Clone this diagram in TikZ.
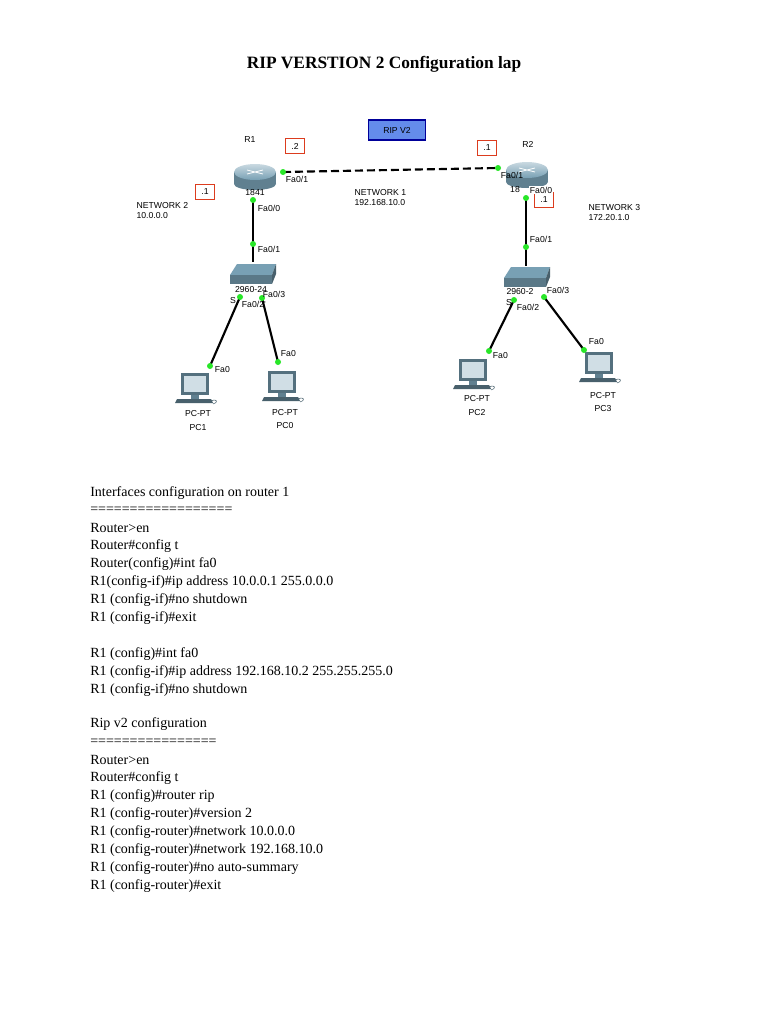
\documentclass[tikz,border=0pt]{standalone}
\usepackage{fontspec}
\setmainfont{Liberation Serif}
\newfontfamily\labfont{Liberation Sans}
\usetikzlibrary{positioning}

\definecolor{devblue}{RGB}{120,160,180}
\definecolor{ripblue}{RGB}{100,140,235}
\definecolor{ipred}{RGB}{220,60,30}
\definecolor{linkgreen}{RGB}{40,230,40}

\tikzset{
  lab/.style={font=\labfont\fontsize{6.5}{7}\selectfont, inner sep=0.5pt},
  ipbox/.style={draw=ipred, line width=1.2pt, fill=white, font=\labfont\fontsize{6.5}{7}\selectfont, minimum width=14pt, minimum height=11pt, inner sep=1pt},
  netlab/.style={font=\labfont\fontsize{6.5}{7.5}\selectfont, align=left, fill=white, inner sep=1pt},
  link/.style={line width=1.6pt, black},
  port/.style={circle, fill=linkgreen, inner sep=0pt, minimum size=4.5pt},
  cfg/.style={anchor=west, font=\fontsize{10.5}{12}\selectfont, inner sep=0pt}
}

% device shapes
\newcommand{\drawRouter}[1]{%
  \begin{scope}[shift={#1}]
    \fill[devblue!80!black] (-21,0) rectangle (21,12);
    \fill[devblue!80!black] (0,12) ellipse (21 and 6);
    \shade[top color=devblue!40!white, bottom color=devblue] (0,0) ellipse (21 and 8);
    \draw[white, line width=0.6pt] (-8,-2) -- (8,2) (-8,2) -- (8,-2);
  \end{scope}}
\newcommand{\drawSwitch}[1]{%
  \begin{scope}[shift={#1}]
    \fill[devblue] (-23,2) -- (-16,-9) -- (23,-9) -- (19,2) -- cycle;
    \fill[devblue!75!black] (-23,2) rectangle (19,11);
    \fill[devblue!60!black] (19,2) -- (23,-9) -- (23,1) -- (19,11) -- cycle;
  \end{scope}}
\newcommand{\drawPC}[1]{%
  \begin{scope}[shift={#1}]
    \fill[devblue!70!black] (-15,-16) rectangle (13,6);
    \fill[devblue!35!white] (-12,-13) rectangle (10,3);
    \fill[devblue!80!black] (-5,6) rectangle (3,10);
    \fill[devblue!60!black] (-19,10) -- (15,10) -- (17,14) -- (-21,14) -- cycle;
    \draw[devblue!60!black] (15,12) .. controls (22,9) and (22,14) .. (17,15);
  \end{scope}}

\begin{document}
\begin{tikzpicture}[x=0.75pt, y=-0.75pt]
  \useasboundingbox[fill=white] (0,0) rectangle (768,1024);

  % Title
  \node[font=\bfseries\fontsize{13}{15}\selectfont] (title) at (384,64) {RIP VERSTION 2 Configuration lap};

  % Devices
  \drawRouter{(255,172)}
  \drawRouter{(527,170)}
  \drawSwitch{(253,273)}
  \drawSwitch{(527,276)}
  \drawPC{(196,389)}
  \drawPC{(283,387)}
  \drawPC{(474,375)}
  \drawPC{(600,368)}

  % Port coordinates
  \coordinate (r1e) at (283,172);
  \coordinate (r2w) at (498,168);
  \coordinate (r1s) at (253,200);
  \coordinate (sw1n) at (253,244);
  \coordinate (sw1a) at (240,297);
  \coordinate (sw1b) at (262,298);
  \coordinate (pc1) at (210,366);
  \coordinate (pc0) at (278,362);
  \coordinate (r2s) at (526,198);
  \coordinate (sw2n) at (526,247);
  \coordinate (sw2a) at (514,300);
  \coordinate (sw2b) at (544,297);
  \coordinate (pc2) at (489,351);
  \coordinate (pc3) at (584,350);

  % Links
  \draw[link, dashed, dash pattern=on 6pt off 3pt] (r1e) -- (r2w);
  \draw[link] (r1s) -- (253,262);
  \draw[link] (r2s) -- (526,266);
  \draw[link] (sw1a) -- (pc1);
  \draw[link] (sw1b) -- (pc0);
  \draw[link] (sw2a) -- (pc2);
  \draw[link] (sw2b) -- (pc3);
  \foreach \p in {r1e,r2w,r1s,sw1n,sw1a,sw1b,pc1,pc0,r2s,sw2n,sw2a,sw2b,pc2,pc3}
    \node[port] at (\p) {};

  % Labels
  \node[draw=blue!60!black, fill=ripblue, line width=0.8pt, minimum width=43pt, minimum height=15pt, font=\labfont\fontsize{6.5}{7}\selectfont] (rip) at (397,130) {RIP V2};
  \node[lab] (r1lab) at (250,140) {R1};
  \node[lab] (r2lab) at (528,144) {R2};
  \node[ipbox] (ipa) at (295,146) {.2};
  \node[ipbox] (ipb) at (205,192) {.1};
  \node[ipbox] (ipc) at (487,148) {.1};
  \node[ipbox] (ipd) at (544,200) {.1};
  \node[lab] (r1mod) at (255,193) {1841};
  \node[lab] (r2mod) at (515,190) {18};
  \node[lab, anchor=west] at (285,179) {Fa0/1};
  \node[lab, anchor=west] at (257,208) {Fa0/0};
  \node[lab, anchor=west] at (257,249) {Fa0/1};
  \node[lab, anchor=west] at (500,175) {Fa0/1};
  \node[lab, anchor=west, fill=white] at (529,190) {Fa0/0};
  \node[lab, anchor=west] at (529,239) {Fa0/1};
  \node[lab] at (251,290) {2960-24};
  \node[lab, anchor=west] at (262,294) {Fa0/3};
  \node[lab] at (233,301) {S};
  \node[lab, anchor=west] at (241,304) {Fa0/2'};
  \node[lab] at (520,292) {2960-2};
  \node[lab, anchor=west] at (546,290) {Fa0/3};
  \node[lab] at (509,303) {S};
  \node[lab, anchor=west] at (516,307) {Fa0/2};
  \node[lab, anchor=west] at (214,370) {Fa0};
  \node[lab, anchor=west] at (280,354) {Fa0};
  \node[lab, anchor=west] at (492,356) {Fa0};
  \node[lab, anchor=west] at (588,342) {Fa0};
  \node[lab] at (198,414) {PC-PT};
  \node[lab] at (198,428) {PC1};
  \node[lab] at (285,413) {PC-PT};
  \node[lab] at (285,426) {PC0};
  \node[lab] at (477,399) {PC-PT};
  \node[lab] at (477,413) {PC2};
  \node[lab] at (603,396) {PC-PT};
  \node[lab] at (603,409) {PC3};
  \node[netlab, anchor=west] (net2) at (135,211) {NETWORK 2\\10.0.0.0};
  \node[netlab, anchor=west] (net1) at (353,198) {NETWORK 1\\192.168.10.0};
  \node[netlab, anchor=west] (net3) at (587,213) {NETWORK 3\\172.20.1.0};

  % Configuration text
  \foreach \y/\t in {493/Interfaces configuration on router 1,
      510/==================,
      528/Router>en,
      546/Router\#config t,
      564/Router(config)\#int fa0/0,
      582/R1(config-if)\#ip address 10.0.0.1 255.0.0.0,
      600/R1 (config-if)\#no shutdown,
      618/R1 (config-if)\#exit,
      654/R1 (config)\#int fa0/1,
      672/R1 (config-if)\#ip address 192.168.10.2 255.255.255.0,
      690/R1 (config-if)\#no shutdown,
      724/Rip v2 configuration,
      742/================,
      760/Router>en,
      778/Router\#config t,
      796/R1 (config)\#router rip,
      814/R1 (config-router)\#version 2,
      832/R1 (config-router)\#network 10.0.0.0,
      850/R1 (config-router)\#network 192.168.10.0,
      868/R1 (config-router)\#no auto-summary,
      886/R1 (config-router)\#exit}
    \node[cfg] at (90,\y) {\t};
\end{tikzpicture}
\end{document}
